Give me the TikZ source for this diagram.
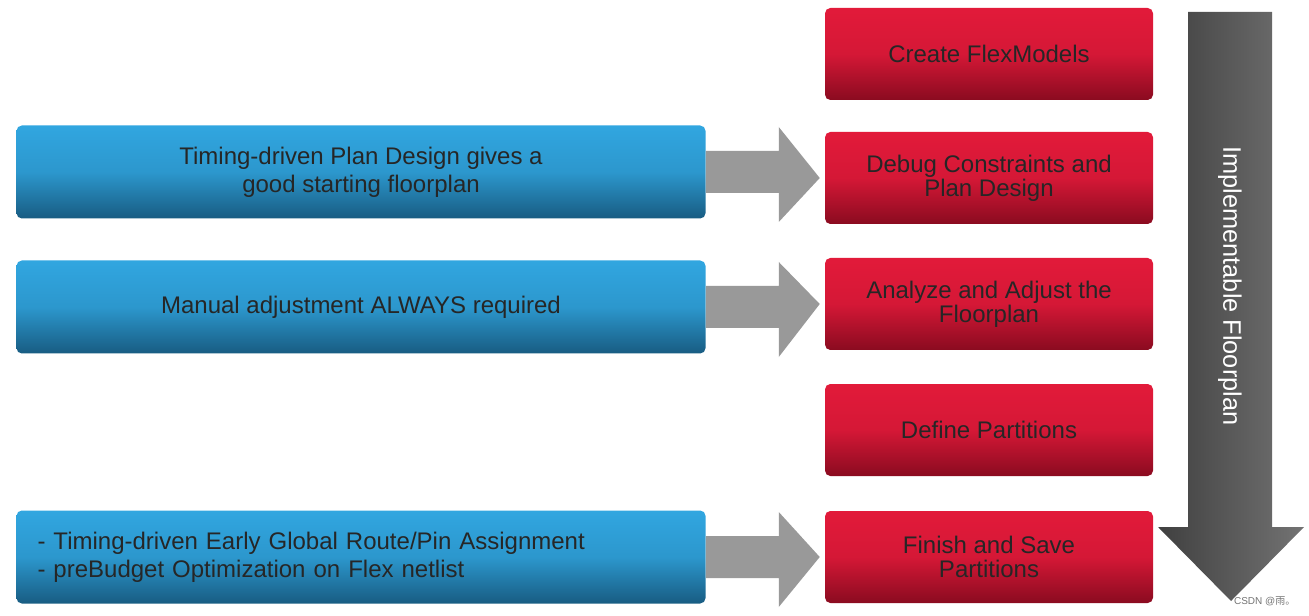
\documentclass[tikz,border=0pt]{standalone}
\usepackage{fontspec}
\setmainfont{Liberation Sans}
\newfontfamily\cjk{Noto Sans CJK SC}
\usetikzlibrary{positioning,calc}
\definecolor{redtop}{HTML}{E21A3A}
\definecolor{redbot}{HTML}{8A0B20}
\definecolor{bluetop}{HTML}{31A6E0}
\definecolor{bluebot}{HTML}{185C82}
\tikzset{
  stage/.style={rounded corners=4pt, top color=redtop, bottom color=redbot, middle color=redtop!85!redbot,
    minimum width=328*0.75pt, minimum height=92*0.75pt, align=center, font=\fontsize{18}{18}\selectfont, text=black!85},
  note/.style={rounded corners=4pt, top color=bluetop, bottom color=bluebot, middle color=bluetop!80!bluebot,
    minimum width=689*0.75pt, minimum height=93*0.75pt, align=center, font=\fontsize{18}{21}\selectfont, text=black!85},
  pointer/.style={fill=black!40, draw=none}
}
\begin{document}
\begin{tikzpicture}[x=0.75pt,y=-0.75pt]
  \useasboundingbox (0,0) rectangle (1309,616);
  % steps on the right
  \node[stage] (flex)   at (989,54)  {Create FlexModels};
  \node[stage] (debug)  at (989,178) {Debug Constraints and\\Plan Design};
  \node[stage] (adjust) at (989,304) {Analyze and Adjust the\\Floorplan};
  \node[stage] (define) at (989,430) {Define Partitions};
  \node[stage] (finish) at (989,557) {Finish and Save\\Partitions};
  % notes on the left
  \node[note] (plan)   at (361,172) {Timing-driven Plan Design gives a\\good starting floorplan};
  \node[note] (manual) at (361,307) {Manual adjustment ALWAYS required};
  \node[note, align=left, inner xsep=21*0.75pt, text width=647*0.75pt] (route) at (361,557)
    {- Timing-driven Early Global Route/Pin Assignment\\- preBudget Optimization on Flex netlist};
  % gray arrows
  \foreach \src/\dst in {plan/debug, manual/adjust, route/finish}{
    \fill[pointer] ($(\src.east)+(0,-21)$) -- ++(73,0) -- ++(0,-24) -- ($(\dst.west)+(-5,0)$)
      -- ($(\src.east)+(73,50)$) -- ++(0,-29) -- ++(-73,0) -- cycle;
  }
  % big down arrow
  \shade[left color=black!75, right color=black!55]
    (1188,12) -- (1272,12) -- (1272,527) -- (1304,527) -- (1231,601) -- (1158,527) -- (1188,527) -- cycle;
  \node[rotate=-90, text=white, font=\fontsize{19}{21}\selectfont] (label) at (1230,286) {Implementable Floorplan};
  \node[text=black!55, font=\fontsize{7.5}{9}\selectfont, anchor=east] (mark) at (1300,601) {CSDN @{\cjk 雨。}};
\end{tikzpicture}
\end{document}
